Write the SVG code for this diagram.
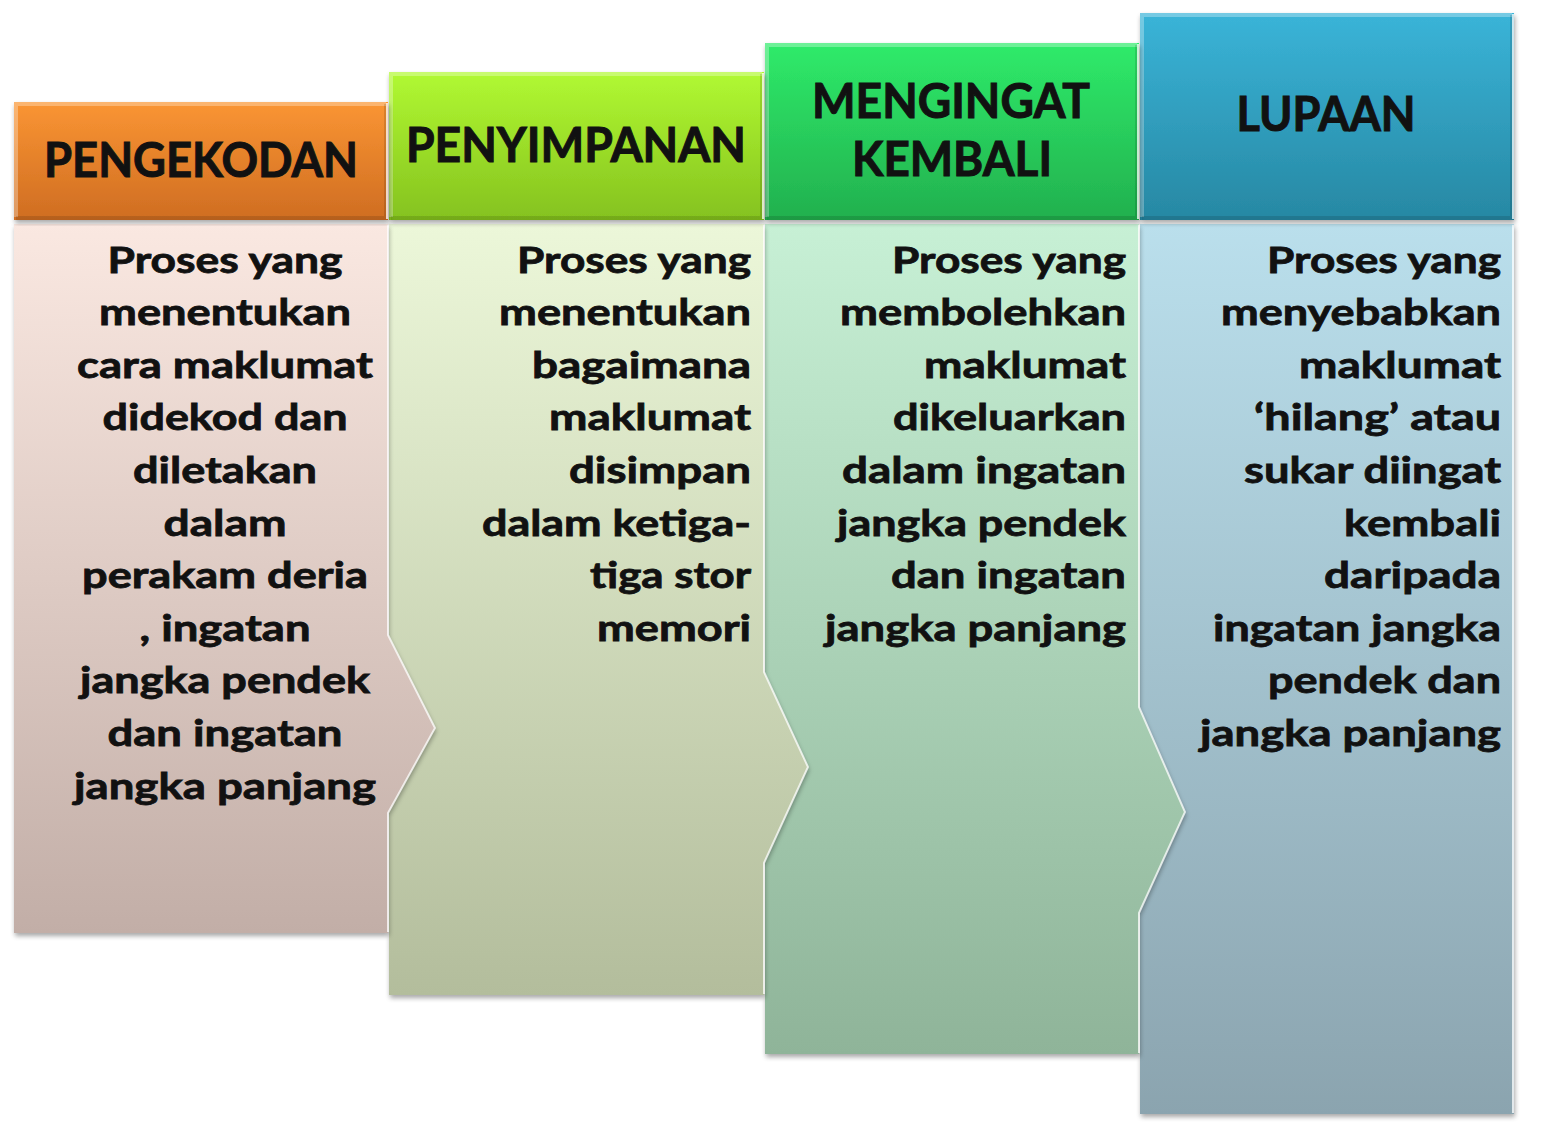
<svg xmlns="http://www.w3.org/2000/svg" width="1552" height="1126" viewBox="0 0 1552 1126">
  <style>
    .hd { font-family: Lato, "Liberation Sans", Arial, sans-serif; font-weight: bold; font-size: 48px; fill: #111111; stroke: #111111; stroke-width: 1; text-anchor: middle; }
    .bt { font-family: Lato, "Liberation Sans", Arial, sans-serif; font-weight: bold; font-size: 37px; fill: #111111; stroke: #111111; stroke-width: 0.8; }
    .r { text-anchor: end; }
    .c { text-anchor: middle; }
    .edge { fill: none; stroke: #ffffff; stroke-opacity: 0.75; stroke-width: 2; }
    .hl { fill: none; stroke: #ffffff; stroke-opacity: 0.3; stroke-width: 4; }
    .dk { fill: none; stroke: #000000; stroke-opacity: 0.12; stroke-width: 4; }
  </style>
  <defs>
    <filter id="sh" x="-5%" y="-5%" width="110%" height="110%">
      <feGaussianBlur in="SourceAlpha" stdDeviation="2.5"/>
      <feOffset dx="1" dy="3" result="b"/>
      <feComponentTransfer><feFuncA type="linear" slope="0.35"/></feComponentTransfer>
      <feMerge><feMergeNode/><feMergeNode in="SourceGraphic"/></feMerge>
    </filter>
    <linearGradient id="h1" x1="0" y1="0" x2="0" y2="1"><stop offset="0" stop-color="#FA9533"/><stop offset="1" stop-color="#CF6D22"/></linearGradient>
    <linearGradient id="h2" x1="0" y1="0" x2="0" y2="1"><stop offset="0" stop-color="#B1F932"/><stop offset="1" stop-color="#85C21F"/></linearGradient>
    <linearGradient id="h3" x1="0" y1="0" x2="0" y2="1"><stop offset="0" stop-color="#2FEB6A"/><stop offset="1" stop-color="#22B04E"/></linearGradient>
    <linearGradient id="h4" x1="0" y1="0" x2="0" y2="1"><stop offset="0" stop-color="#3AB4D8"/><stop offset="1" stop-color="#2788A3"/></linearGradient>
    <linearGradient id="b1" x1="0" y1="0" x2="0" y2="1"><stop offset="0" stop-color="#FAE8E1"/><stop offset="1" stop-color="#C2AEA7"/></linearGradient>
    <linearGradient id="b2" x1="0" y1="0" x2="0" y2="1"><stop offset="0" stop-color="#ECF7D9"/><stop offset="1" stop-color="#B3BD9C"/></linearGradient>
    <linearGradient id="b3" x1="0" y1="0" x2="0" y2="1"><stop offset="0" stop-color="#C7F0D5"/><stop offset="1" stop-color="#8FB499"/></linearGradient>
    <linearGradient id="b4" x1="0" y1="0" x2="0" y2="1"><stop offset="0" stop-color="#BADFEC"/><stop offset="1" stop-color="#8BA4AF"/></linearGradient>
  </defs>
  <rect x="0" y="0" width="1552" height="1126" fill="#ffffff"/>

  <g id="connectors"/>

  <g id="col4-lupaan">
    <path d="M1140,224 H1514 V1114 H1140 Z" fill="url(#b4)" filter="url(#sh)"/>
    <path class="edge" d="M1513,225 V1113"/>
    <rect x="1140" y="13" width="374" height="207" fill="url(#h4)" filter="url(#sh)"/>
    <path class="hl" d="M1142,217 V15 H1512"/>
    <path class="dk" d="M1142,218 H1512 V15"/>
    <path class="edge" d="M1513,14 V219"/>
    <text class="hd" x="1326" y="131" textLength="179" lengthAdjust="spacingAndGlyphs">LUPAAN</text>
    <text class="bt r" x="1501" y="273" textLength="234" lengthAdjust="spacingAndGlyphs">Proses yang</text>
    <text class="bt r" x="1501" y="325" textLength="280" lengthAdjust="spacingAndGlyphs">menyebabkan</text>
    <text class="bt r" x="1501" y="378" textLength="202" lengthAdjust="spacingAndGlyphs">maklumat</text>
    <text class="bt r" x="1501" y="430" textLength="247" lengthAdjust="spacingAndGlyphs">‘hilang’ atau</text>
    <text class="bt r" x="1501" y="483" textLength="257" lengthAdjust="spacingAndGlyphs">sukar diingat</text>
    <text class="bt r" x="1501" y="536" textLength="157" lengthAdjust="spacingAndGlyphs">kembali</text>
    <text class="bt r" x="1501" y="588" textLength="177" lengthAdjust="spacingAndGlyphs">daripada</text>
    <text class="bt r" x="1501" y="641" textLength="288" lengthAdjust="spacingAndGlyphs">ingatan jangka</text>
    <text class="bt r" x="1501" y="693" textLength="233" lengthAdjust="spacingAndGlyphs">pendek dan</text>
    <text class="bt r" x="1501" y="746" textLength="301" lengthAdjust="spacingAndGlyphs">jangka panjang</text>
  </g>

  <g id="col3-mengingat-kembali">
    <path d="M765,224 H1139 V707 L1185,812 L1139,913 V1054 H765 Z" fill="url(#b3)" filter="url(#sh)"/>
    <path class="edge" d="M1139,225 V707 L1185,812 L1139,913 V1053"/>
    <rect x="765" y="43" width="374" height="177" fill="url(#h3)" filter="url(#sh)"/>
    <path class="hl" d="M767,217 V45 H1137"/>
    <path class="dk" d="M767,218 H1137 V45"/>
    <path class="edge" d="M1138,44 V219"/>
    <text class="hd" x="951" y="118" textLength="278" lengthAdjust="spacingAndGlyphs">MENGINGAT</text>
    <text class="hd" x="952" y="176" textLength="200" lengthAdjust="spacingAndGlyphs">KEMBALI</text>
    <text class="bt r" x="1126" y="273" textLength="234" lengthAdjust="spacingAndGlyphs">Proses yang</text>
    <text class="bt r" x="1126" y="325" textLength="286" lengthAdjust="spacingAndGlyphs">membolehkan</text>
    <text class="bt r" x="1126" y="378" textLength="202" lengthAdjust="spacingAndGlyphs">maklumat</text>
    <text class="bt r" x="1126" y="430" textLength="233" lengthAdjust="spacingAndGlyphs">dikeluarkan</text>
    <text class="bt r" x="1126" y="483" textLength="284" lengthAdjust="spacingAndGlyphs">dalam ingatan</text>
    <text class="bt r" x="1126" y="536" textLength="289" lengthAdjust="spacingAndGlyphs">jangka pendek</text>
    <text class="bt r" x="1126" y="588" textLength="235" lengthAdjust="spacingAndGlyphs">dan ingatan</text>
    <text class="bt r" x="1126" y="641" textLength="301" lengthAdjust="spacingAndGlyphs">jangka panjang</text>
  </g>

  <g id="col2-penyimpanan">
    <path d="M389,224 H764 V672 L808,767 L764,863 V995 H389 Z" fill="url(#b2)" filter="url(#sh)"/>
    <path class="edge" d="M764,225 V672 L808,767 L764,863 V994"/>
    <rect x="389" y="72" width="375" height="148" fill="url(#h2)" filter="url(#sh)"/>
    <path class="hl" d="M391,217 V74 H762"/>
    <path class="dk" d="M391,218 H762 V74"/>
    <path class="edge" d="M763,73 V219"/>
    <text class="hd" x="576" y="162" textLength="340" lengthAdjust="spacingAndGlyphs">PENYIMPANAN</text>
    <text class="bt r" x="751" y="273" textLength="234" lengthAdjust="spacingAndGlyphs">Proses yang</text>
    <text class="bt r" x="751" y="325" textLength="252" lengthAdjust="spacingAndGlyphs">menentukan</text>
    <text class="bt r" x="751" y="378" textLength="219" lengthAdjust="spacingAndGlyphs">bagaimana</text>
    <text class="bt r" x="751" y="430" textLength="202" lengthAdjust="spacingAndGlyphs">maklumat</text>
    <text class="bt r" x="751" y="483" textLength="182" lengthAdjust="spacingAndGlyphs">disimpan</text>
    <text class="bt r" x="751" y="536" textLength="269" lengthAdjust="spacingAndGlyphs">dalam ketiga-</text>
    <text class="bt r" x="751" y="588" textLength="161" lengthAdjust="spacingAndGlyphs">tiga stor</text>
    <text class="bt r" x="751" y="641" textLength="154" lengthAdjust="spacingAndGlyphs">memori</text>
  </g>

  <g id="col1-pengekodan">
    <path d="M14,224 H388 V635 L435,728 L388,813 V933 H14 Z" fill="url(#b1)" filter="url(#sh)"/>
    <path class="edge" d="M388,225 V635 L435,728 L388,813 V932"/>
    <rect x="14" y="102" width="374" height="118" fill="url(#h1)" filter="url(#sh)"/>
    <path class="hl" d="M16,217 V104 H386"/>
    <path class="dk" d="M16,218 H386 V104"/>
    <path class="edge" d="M387,103 V219"/>
    <text class="hd" x="201" y="177" textLength="314" lengthAdjust="spacingAndGlyphs">PENGEKODAN</text>
    <text class="bt c" x="225" y="273" textLength="235" lengthAdjust="spacingAndGlyphs">Proses yang</text>
    <text class="bt c" x="225" y="325" textLength="252" lengthAdjust="spacingAndGlyphs">menentukan</text>
    <text class="bt c" x="225" y="378" textLength="296" lengthAdjust="spacingAndGlyphs">cara maklumat</text>
    <text class="bt c" x="225" y="430" textLength="245" lengthAdjust="spacingAndGlyphs">didekod dan</text>
    <text class="bt c" x="225" y="483" textLength="184" lengthAdjust="spacingAndGlyphs">diletakan</text>
    <text class="bt c" x="225" y="536" textLength="123" lengthAdjust="spacingAndGlyphs">dalam</text>
    <text class="bt c" x="225" y="588" textLength="286" lengthAdjust="spacingAndGlyphs">perakam deria</text>
    <text class="bt c" x="225" y="641" textLength="171" lengthAdjust="spacingAndGlyphs">, ingatan</text>
    <text class="bt c" x="225" y="693" textLength="290" lengthAdjust="spacingAndGlyphs">jangka pendek</text>
    <text class="bt c" x="225" y="746" textLength="235" lengthAdjust="spacingAndGlyphs">dan ingatan</text>
    <text class="bt c" x="225" y="799" textLength="302" lengthAdjust="spacingAndGlyphs">jangka panjang</text>
  </g>
</svg>
